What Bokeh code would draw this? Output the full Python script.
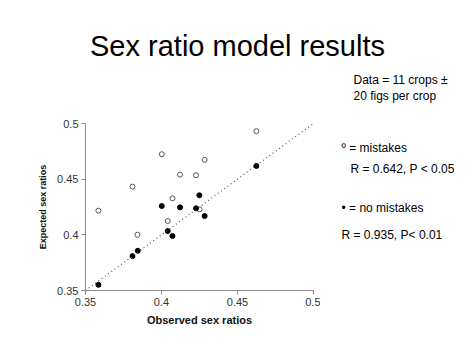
from bokeh.plotting import figure
from bokeh.layouts import column, row
from bokeh.models import Range1d, Slope, FixedTicker
from bokeh.core.properties import value
from bokeh.embed import file_html
from bokeh.resources import INLINE

# Data: observed vs expected sex ratios
obs_mistakes = [0.3585, 0.3809, 0.3842, 0.4002, 0.4041, 0.4072, 0.4122, 0.4227, 0.4251, 0.4284, 0.4624]
exp_mistakes = [0.4217, 0.4433, 0.4001, 0.4724, 0.4124, 0.4328, 0.4541, 0.4535, 0.4229, 0.4673, 0.4931]
obs_no_mistakes = [0.3585, 0.3809, 0.3844, 0.4002, 0.4041, 0.4072, 0.4122, 0.4227, 0.4249, 0.4284, 0.4624]
exp_no_mistakes = [0.3551, 0.3809, 0.3857, 0.4259, 0.4034, 0.3989, 0.4247, 0.4238, 0.4355, 0.4169, 0.4619]
ticks = [0.35, 0.4, 0.45, 0.5]
tick_labels = {0.35: "0.35", 0.4: "0.4", 0.45: "0.45", 0.5: "0.5"}

title_text = "Sex ratio model results"
data_note = ["Data = 11 crops \u00b1", "20 figs per crop"]
result_notes = ["\u00ba = mistakes", "R = 0.642, P < 0.05",
                "\u2022 = no mistakes", "R = 0.935, P< 0.01"]

W, H = 474, 355
TOP_H = 113         # height of the title strip (canvas pixels)
MAIN_W = 320        # width of the scatter figure
MAIN_H = H - TOP_H
SIDE_W = W - MAIN_W
FRAME_TOP, FRAME_BOTTOM = 123, 290


def text_canvas(w, h, xr, yr, top=0, bottom=0):
    f = figure(width=w, height=h, output_backend="svg", toolbar_location=None,
               x_range=Range1d(*xr), y_range=Range1d(*yr),
               x_axis_type=None, y_axis_type=None,
               min_border=0, min_border_left=0, min_border_right=0,
               min_border_top=top, min_border_bottom=bottom)
    f.outline_line_color = None
    f.grid.visible = False
    return f


# --- title strip (coordinates = canvas pixels, y down)
t = text_canvas(W, TOP_H, (0, W), (TOP_H, 0))
t.text(x=[237], y=[45], text=[title_text], text_font=value("Liberation Sans"),
       text_font_size="29px", text_color="black", text_align="center",
       text_baseline="middle")
t.text(x=[353, 353], y=[79, 95], text=data_note, text_font=value("Liberation Sans"),
       text_font_size="12px", text_color="black", text_align="left",
       text_baseline="middle")

# --- main scatter
p = figure(width=MAIN_W, height=MAIN_H, output_backend="svg", toolbar_location=None,
           x_range=Range1d(0.35, 0.5), y_range=Range1d(0.35, 0.5),
           min_border_left=85, min_border_right=MAIN_W - 313,
           min_border_top=FRAME_TOP - TOP_H, min_border_bottom=H - FRAME_BOTTOM)
p.outline_line_color = None
p.grid.visible = False

for ax in (p.xaxis[0], p.yaxis[0]):
    ax.ticker = FixedTicker(ticks=ticks)
    ax.major_label_overrides = tick_labels
    ax.axis_line_color = "#8a8a8a"
    ax.major_tick_line_color = "#8a8a8a"
    ax.minor_tick_line_color = None
    ax.major_tick_out = 4
    ax.major_tick_in = 0
    ax.major_label_standoff = 3
    ax.major_label_text_font = "Liberation Sans"
    ax.major_label_text_font_size = "11px"
    ax.major_label_text_color = "#333333"
    ax.axis_label_text_font = "Liberation Sans"
    ax.axis_label_text_font_style = "bold"
    ax.axis_label_text_color = "#111111"

p.xaxis.axis_label = "Observed sex ratios"
p.xaxis.axis_label_text_font_size = "11px"
p.xaxis.axis_label_standoff = 5
p.yaxis.axis_label = "Expected sex ratios"
p.yaxis.axis_label_text_font_size = "9px"
p.yaxis.axis_label_standoff = 6

# y = x reference line
p.add_layout(Slope(gradient=1, y_intercept=0, line_color="#555555",
                   line_dash="1 3", line_width=1.2))

p.scatter(obs_mistakes, exp_mistakes, size=5, marker="circle",
          fill_color="white", line_color="#555555", line_width=1)
p.scatter(obs_no_mistakes, exp_no_mistakes, size=5, marker="circle",
          fill_color="black", line_color="black")

# --- side notes: frame is aligned with the scatter frame (canvas y 123..290)
s = text_canvas(SIDE_W, MAIN_H, (MAIN_W, W), (FRAME_BOTTOM, FRAME_TOP),
                top=FRAME_TOP - TOP_H, bottom=H - FRAME_BOTTOM)
s.text(x=[341, 350, 341, 341], y=[147, 168, 207, 234], text=result_notes,
       text_font=value("Liberation Sans"), text_font_size="12px",
       text_color="black", text_align="left", text_baseline="middle")

layout = column(t, row(p, s, spacing=0), spacing=0)
open("out.html", "w").write(file_html(layout, INLINE))
